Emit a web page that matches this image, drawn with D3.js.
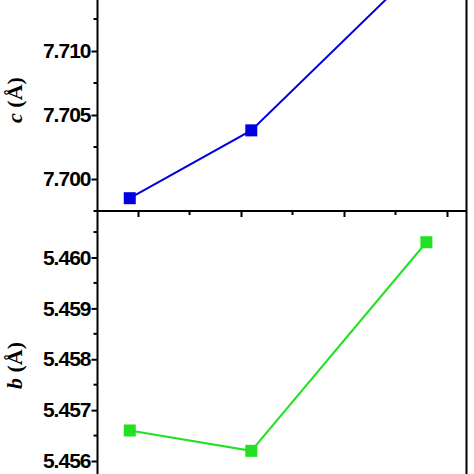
<!DOCTYPE html>
<html><head><meta charset="utf-8">
<script src="https://cdn.jsdelivr.net/npm/d3@7"></script>
<style>body{margin:0;background:#fff}</style></head>
<body><svg id="c" width="474" height="474"></svg>
<script>
const xVals = [-0.08, 1.1, 2.8];
const cVals = [7.6985, 7.7038, 7.7171];
const bVals = [5.4566, 5.4562, 5.4603];
const cTicks = [7.700, 7.705, 7.710];
const bTicks = [5.456, 5.457, 5.458, 5.459, 5.460];
const xTicks = [0, 1, 2, 3];

const svg = d3.select("#c");
const L = 97.5, R = 466.5, mid = 211;
const x = d3.scaleLinear().domain([0, 3]).range([138, 447]);
const yc = d3.scaleLinear().domain([7.700, 7.710]).range([179, 51]);
const yb = d3.scaleLinear().domain([5.456, 5.460]).range([461, 257.5]);
const font = "Arial, 'Liberation Sans', sans-serif";

function panel(y, ticks, minorStep, top, bottom, vals, color, label) {
  const g = svg.append("g").attr("transform", `translate(${L},0)`);
  const ax = d3.axisLeft(y).tickValues(ticks).tickSize(6).tickFormat(d3.format(".3f"));
  g.call(ax);
  g.select(".domain").remove();
  g.selectAll(".tick line").attr("stroke", "#000").attr("stroke-width", 2);
  g.selectAll(".tick text").attr("font-family", font).attr("font-weight", "bold")
    .style("font-size", "21px").style("letter-spacing", "-1px").attr("fill", "#000").attr("x", -7);
  const minors = ticks.map(t => t + minorStep).concat([ticks[0] - minorStep]);
  g.selectAll(".minor").data(minors).enter().append("line")
    .attr("x1", 0).attr("x2", -4).attr("y1", d => y(d)).attr("y2", d => y(d))
    .attr("stroke", "#000").attr("stroke-width", 2);
  const line = d3.line().x((d, i) => x(xVals[i])).y(d => y(d));
  svg.append("path").datum(vals).attr("d", line).attr("fill", "none")
    .attr("stroke", color).attr("stroke-width", 2);
  svg.selectAll(null).data(vals).enter().append("rect")
    .attr("x", (d, i) => x(xVals[i]) - 6).attr("y", d => y(d) - 6)
    .attr("width", 12).attr("height", 12).attr("fill", color);
  svg.append("text").attr("transform", `translate(22,${(top + bottom) / 2}) rotate(-90)`)
    .attr("text-anchor", "middle").attr("font-family", "'Liberation Serif', 'Times New Roman', serif")
    .attr("font-weight", "bold").style("font-size", "22px")
    .html(label);
}
panel(yc, cTicks, 0.0025, -30, 230, cVals, "#0000e0", "<tspan font-style='italic'>c</tspan> (Å)");
panel(yb, bTicks, 0.0005, 211, 520, bVals, "#22e022", "<tspan font-style='italic'>b</tspan> (Å)");

svg.append("line").attr("x1", L).attr("x2", L).attr("y1", 0).attr("y2", 474).attr("stroke", "#000").attr("stroke-width", 2);
svg.append("line").attr("x1", R).attr("x2", R).attr("y1", 0).attr("y2", 474).attr("stroke", "#000").attr("stroke-width", 2);
svg.append("line").attr("x1", L).attr("x2", R).attr("y1", mid).attr("y2", mid).attr("stroke", "#000").attr("stroke-width", 2);
const xg = svg.append("g").attr("transform", `translate(0,${mid})`);
xg.call(d3.axisBottom(x).tickValues(xTicks).tickSize(6).tickFormat(""));
xg.select(".domain").remove();
xg.selectAll("line").attr("stroke-width", 2);
xg.selectAll(".mx").data([0.5, 1.5, 2.5]).enter().append("line")
  .attr("x1", d => x(d)).attr("x2", d => x(d)).attr("y1", 0).attr("y2", 4)
  .attr("stroke", "#000").attr("stroke-width", 2);
</script></body></html>
